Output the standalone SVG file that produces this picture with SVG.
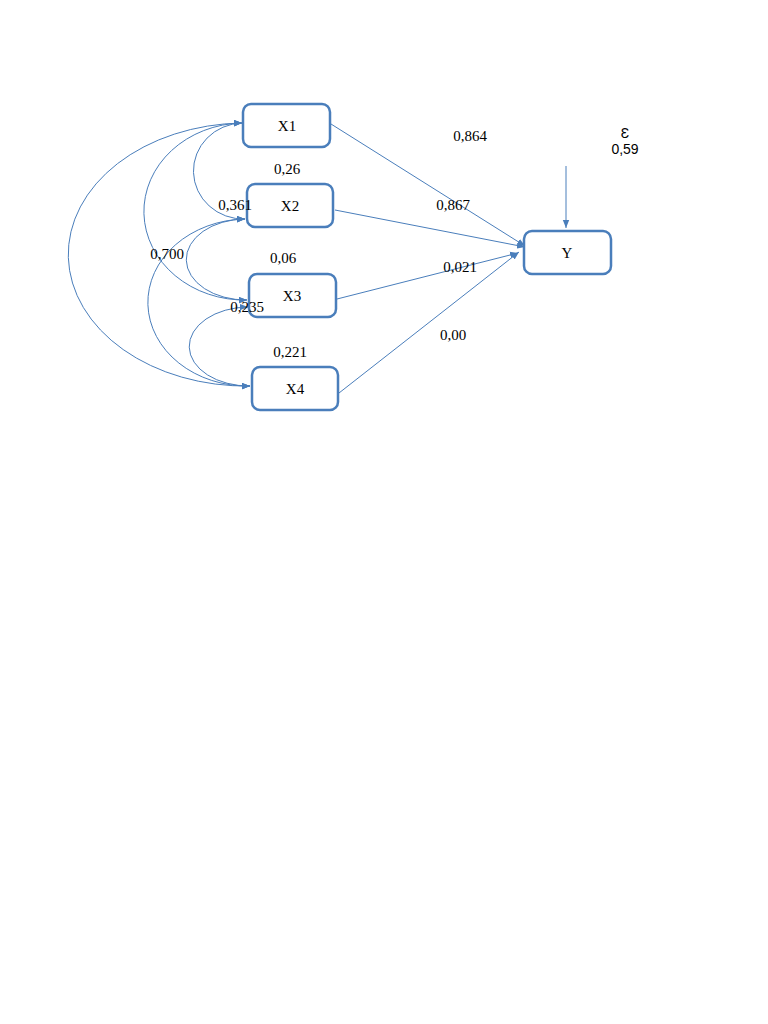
<svg xmlns="http://www.w3.org/2000/svg" width="768" height="1024" viewBox="0 0 768 1024">
<style>
.box{fill:#fff;stroke:#4a7ebb;stroke-width:2.5}
.lbl{font-family:"Liberation Serif","Times New Roman",serif;font-size:15px;fill:#000;text-anchor:middle}
.sans{font-family:"Liberation Sans",Arial,sans-serif;font-size:14px;fill:#000;text-anchor:middle}
.c{fill:none;stroke:#4a7ebb;stroke-width:1}
.a{marker-end:url(#ah)}
.d{marker-start:url(#ah);marker-end:url(#ah)}
</style>
<defs>
<marker id="ah" viewBox="0 0 10 10" refX="10" refY="5" markerWidth="8" markerHeight="8" markerUnits="userSpaceOnUse" orient="auto-start-reverse">
<path d="M0,1 L10,5 L0,9 z" fill="#4a7ebb"/>
</marker>
</defs>
<rect width="768" height="1024" fill="#fff"/>
<g id="connectors">
<line class="c a" x1="331" y1="124" x2="525" y2="246"/>
<line class="c a" x1="335" y1="210" x2="525" y2="247"/>
<line class="c a" x1="337" y1="299" x2="518" y2="253"/>
<line class="c a" x1="339" y1="393" x2="519" y2="252"/>
<line class="c a" x1="566" y1="166" x2="566" y2="228"/>
<path class="c d" d="M242,123 A49,47 0 0 0 245,219"/>
<path class="c d" d="M242,123 A100,88 0 0 0 247,300"/>
<path class="c d" d="M242,123 A177,131 0 0 0 250,386"/>
<path class="c d" d="M245,219 A59,40 0 0 0 247,300"/>
<path class="c d" d="M245,219 A99,83 0 0 0 250,386"/>
<path class="c d" d="M248,307 A59,39 0 0 0 250,386"/>
</g>
<g id="X1"><rect class="box" x="243" y="104" width="87" height="43" rx="8"/><text class="lbl" x="287" y="131">X1</text></g>
<g id="X2"><rect class="box" x="247" y="184" width="86" height="43" rx="8"/><text class="lbl" x="290" y="211">X2</text></g>
<g id="X3"><rect class="box" x="249" y="274" width="87" height="43" rx="8"/><text class="lbl" x="292" y="301">X3</text></g>
<g id="X4"><rect class="box" x="252" y="367" width="86" height="43" rx="8"/><text class="lbl" x="295" y="394">X4</text></g>
<g id="Y"><rect class="box" x="524" y="231" width="87" height="43" rx="8"/><text class="lbl" x="567" y="258">Y</text></g>
<g id="labels">
<text class="lbl" x="287" y="174">0,26</text>
<text class="lbl" x="235" y="210">0,361</text>
<text class="lbl" x="167" y="259">0,700</text>
<text class="lbl" x="283" y="263">0,06</text>
<text class="lbl" x="247" y="312">0,235</text>
<text class="lbl" x="290" y="357">0,221</text>
<text class="lbl" x="470" y="141">0,864</text>
<text class="lbl" x="453" y="210">0,867</text>
<text class="lbl" x="460" y="272">0,021</text>
<text class="lbl" x="453" y="340">0,00</text>
<text class="sans" x="625" y="138">Ɛ</text>
<text class="sans" x="625" y="154">0,59</text>
</g>
</svg>
